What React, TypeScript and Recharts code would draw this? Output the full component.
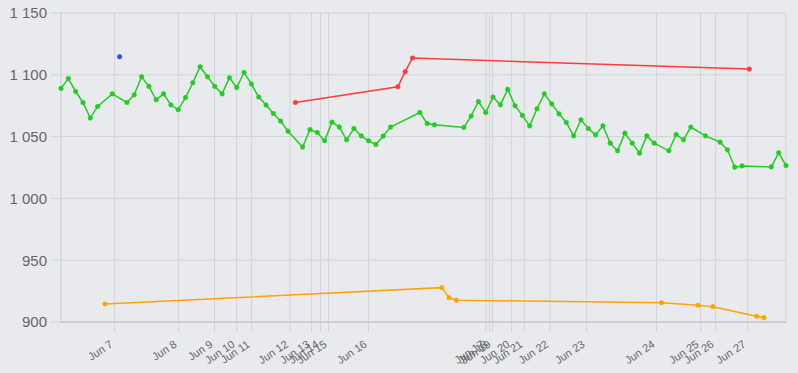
import React from 'react';
import { LineChart, Line, XAxis, YAxis, CartesianGrid } from 'recharts';

// [index on the time-series scale, value]
const GREEN: [number, number][] = [
  [0, 1089], [1, 1097], [2, 1086.5], [3, 1077.6], [4, 1065], [5, 1074.4], [7, 1084.6],
  [9, 1077.6], [10, 1083.8], [11, 1098.4], [12, 1090.6], [13, 1079.8], [14, 1084.6],
  [15, 1075.7], [16, 1071.7], [17, 1081.6], [18, 1093.6], [19, 1106.5], [20, 1098.4],
  [21, 1090.6], [22, 1084.6], [23, 1097.6], [24, 1089.7], [25, 1101.9], [26, 1092.5],
  [27, 1082], [28, 1075.5], [29, 1068.7], [30, 1062.5], [31, 1054.4], [33, 1041.5],
  [34, 1055.7], [35, 1053.3], [36, 1046.6], [37, 1061.7], [38, 1057.7], [39, 1047.4],
  [40, 1056.5], [41, 1050.6], [42, 1046.6], [43, 1043.6], [44, 1050.4], [45, 1057.7],
  [49, 1069.5], [50, 1060.6], [51, 1059.5], [55, 1057.4], [56, 1066.6], [57, 1078.4],
  [58, 1069.5], [59, 1082], [60, 1075.7], [61, 1088.3], [62, 1074.9], [63, 1067.2],
  [64, 1058.7], [65, 1072.5], [66, 1084.6], [67, 1076.5], [68, 1068.4], [69, 1061.4],
  [70, 1050.6], [71, 1063.6], [72, 1056.5], [73, 1051.4], [74, 1058.7], [75, 1044.7],
  [76, 1038.5], [77, 1052.8], [78, 1044.7], [79, 1036.6], [80, 1050.6], [81, 1044.7],
  [83, 1038.5], [84, 1051.7], [85, 1047.4], [86, 1057.7], [88, 1050.6], [90, 1045.5],
  [91, 1039.3], [92, 1025.3], [93, 1026.3], [97, 1025.5], [98, 1036.9], [99, 1026.6],
];
const RED: [number, number][] = [
  [32, 1077.6], [46, 1090.3], [47, 1102.5], [48, 1113.6], [94, 1104.6],
];
const BLUE: [number, number][] = [[8, 1114.6]];
const ORANGE: [number, number][] = [
  [6, 914.6], [52, 927.8], [53, 919.7], [54, 917.6], [82, 915.6], [87, 913.5],
  [89, 912.4], [95, 904.6], [96, 903.5],
];

const X_TICKS = [7.32, 16.06, 20.97, 23.98, 26.03, 31.27, 34.22, 35.45, 36.54, 42.0, 58.04,
  58.53, 58.94, 61.53, 63.27, 66.78, 71.77, 81.33, 87.34, 89.39, 93.76];
const X_LABELS = ['Jun 7', 'Jun 8', 'Jun 9', 'Jun 10', 'Jun 11', 'Jun 12', 'Jun 13', 'Jun 14',
  'Jun 15', 'Jun 16', 'Jun 17', 'Jun 18', 'Jun 19', 'Jun 20', 'Jun 21', 'Jun 22', 'Jun 23',
  'Jun 24', 'Jun 25', 'Jun 26', 'Jun 27'];
const Y_TICKS = [900, 950, 1000, 1050, 1100, 1150];
const N_POINTS = 100;

const rows: any[] = [];
for (let i = 0; i < N_POINTS; i++) rows.push({ i });
GREEN.forEach(([i, v]) => (rows[i].green = v));
RED.forEach(([i, v]) => (rows[i].red = v));
BLUE.forEach(([i, v]) => (rows[i].blue = v));
ORANGE.forEach(([i, v]) => (rows[i].orange = v));

const GRID = '#d2d3d7';
const TEXT = '#666';

const fmtY = (v: number) => {
  if (v >= 1000) {
    const t = Math.floor(v / 1000);
    const r = String(v % 1000).padStart(3, '0');
    return `${t} ${r}`;
  }
  return String(v);
};

const XTick = (props: any) => {
  const { x, y, payload } = props;
  const idx = X_TICKS.indexOf(payload.value);
  const label = idx >= 0 ? X_LABELS[idx] : '';
  return (
    <g transform={`translate(${x - 1},${y + 12})`}>
      <text
        x={0}
        y={0}
        transform="rotate(-34)"
        textAnchor="end"
        fontSize={11}
        fill={TEXT}
        fontFamily="'Liberation Sans', Arial, sans-serif"
      >
        {label}
      </text>
    </g>
  );
};

const COLORS = { green: '#22cc22', red: '#ff3b3b', orange: '#ffa500', blue: '#3347ff' };

export default function App() {
  return (
    <div
      style={{
        position: 'absolute',
        left: 0,
        top: 0,
        width: 798,
        height: 373,
        background: '#e9eaee',
        overflow: 'hidden',
      }}
    >
      <LineChart
        width={798}
        height={373}
        data={rows}
        margin={{ top: 13, right: 12, bottom: 0, left: 0 }}
      >
        <CartesianGrid stroke={GRID} strokeWidth={1} />
        <XAxis
          dataKey="i"
          type="number"
          domain={[0, N_POINTS - 1]}
          ticks={X_TICKS}
          interval={0}
          height={51}
          tickSize={10}
          tickMargin={2}
          tickLine={{ stroke: GRID }}
          axisLine={{ stroke: '#bcbdc1' }}
          tick={<XTick />}
        />
        <YAxis
          type="number"
          domain={[900, 1150]}
          ticks={Y_TICKS}
          width={61}
          tickSize={10}
          tickMargin={4}
          tickLine={{ stroke: GRID }}
          axisLine={{ stroke: GRID }}
          tickFormatter={fmtY}
          tick={{ fontSize: 15, fill: TEXT, fontFamily: "'Liberation Sans', Arial, sans-serif" }}
        />
        <Line
          dataKey="orange"
          stroke={COLORS.orange}
          strokeWidth={1.5}
          connectNulls
          dot={{ r: 2.3, fill: COLORS.orange, stroke: COLORS.orange, strokeWidth: 0.5 }}
          isAnimationActive={false}
        />
        <Line
          dataKey="red"
          stroke={COLORS.red}
          strokeWidth={1.5}
          connectNulls
          dot={{ r: 2.3, fill: COLORS.red, stroke: COLORS.red, strokeWidth: 0.5 }}
          isAnimationActive={false}
        />
        <Line
          dataKey="green"
          stroke={COLORS.green}
          strokeWidth={1.5}
          connectNulls
          dot={{ r: 2.3, fill: COLORS.green, stroke: COLORS.green, strokeWidth: 0.5 }}
          isAnimationActive={false}
        />
        <Line
          dataKey="blue"
          stroke={COLORS.blue}
          strokeWidth={1.5}
          connectNulls
          dot={{ r: 2.3, fill: COLORS.blue, stroke: COLORS.blue, strokeWidth: 0.5 }}
          isAnimationActive={false}
        />
      </LineChart>
    </div>
  );
}
